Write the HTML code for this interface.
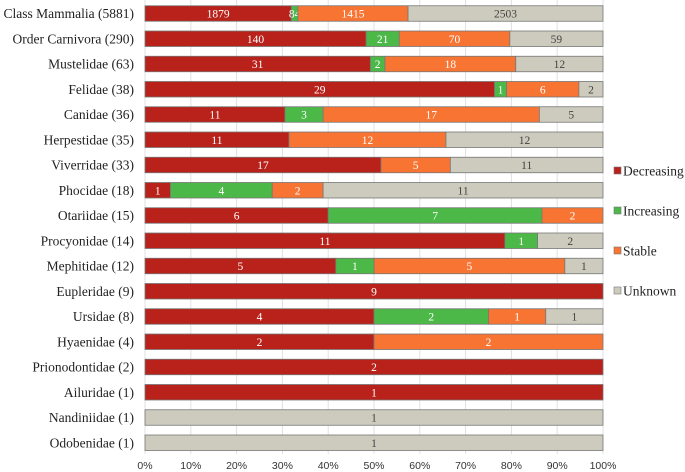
<!DOCTYPE html>
<html><head><meta charset="utf-8"><style>
body{margin:0;background:#fff;}
svg{display:block;}
</style></head><body>
<svg id="chart" width="685" height="472"></svg>
<script>
const categories=["Class Mammalia (5881)","Order Carnivora (290)","Mustelidae (63)","Felidae (38)","Canidae (36)","Herpestidae (35)","Viverridae (33)","Phocidae (18)","Otariidae (15)","Procyonidae (14)","Mephitidae (12)","Eupleridae (9)","Ursidae (8)","Hyaenidae (4)","Prionodontidae (2)","Ailuridae (1)","Nandiniidae (1)","Odobenidae (1)"];
const decreasing=[1879,140,31,29,11,11,17,1,6,11,5,9,4,2,2,1,0,0];
const increasing=[84,21,2,1,3,0,0,4,7,1,1,0,2,0,0,0,0,0];
const stable=[1415,70,18,6,17,12,5,2,2,0,5,0,1,2,0,0,0,0];
const unknown=[2503,59,12,2,5,12,11,11,0,2,1,0,1,0,0,0,1,1];
const seriesNames=["Decreasing","Increasing","Stable","Unknown"];
const tickLabels=["0%","10%","20%","30%","40%","50%","60%","70%","80%","90%","100%"];

const NS="http://www.w3.org/2000/svg";
const svg=document.getElementById('chart');
const SERIF="'Liberation Serif','Times New Roman',serif";
const SANS="'Liberation Sans',Arial,sans-serif";
const X0=145,X1=603,Y0=13.5,STEP=25.25,BH=15.5;
const colors=["#b8221a","#4cb848","#f87432","#cccbbd"];
const textCol=["#fff","#fff","#fff","#444"];
const series=[decreasing,increasing,stable,unknown];
function x(p){return X0+(X1-X0)*p;}
function yc(i){return Y0+STEP*i;}
function el(t,a){const e=document.createElementNS(NS,t);for(const k in a)e.setAttribute(k,a[k]);svg.appendChild(e);return e;}
tickLabels.forEach((t,k)=>{
  const g=el('line',{x1:x(k/10),x2:x(k/10),y1:0,y2:454,stroke:'#e0e0e0','stroke-width':1});
  
  
  const tx=el('text',{x:x(k/10),y:469,'text-anchor':'middle','font-family':SANS,'font-size':10.5,fill:'#333'});
  tx.textContent=t;
  
  
});
categories.forEach((c,i)=>{
  const lab=el('text',{x:134,y:yc(i)+4.5,'text-anchor':'end','font-family':SERIF,'font-size':13.5,fill:'#222'});
  lab.textContent=c;
  
  
  const tot=series.reduce((s,a)=>s+a[i],0);
  let acc=0;
  series.forEach((arr,s)=>{
    const v=arr[i]; if(!v)return;
    const xa=x(acc/tot),xb=x((acc+v)/tot);
    const r=el('rect',{x:xa,y:yc(i)-BH/2,width:xb-xa,height:BH,fill:colors[s],stroke:'#777','stroke-width':0.8});
    
    
    const t=el('text',{x:(xa+xb)/2,y:yc(i)+4,'text-anchor':'middle','font-family':SERIF,'font-size':11.5,fill:textCol[s]});
    t.textContent=v;
    
    
    acc+=v;
  });
});
seriesNames.forEach((n,s)=>{
  const ly=171+40*s;
  const r=el('rect',{x:614,y:ly-4,width:7,height:7,fill:colors[s],stroke:'#777','stroke-width':0.6});
  
  
  const t=el('text',{x:623,y:ly+4.5,'font-family':SERIF,'font-size':13.5,fill:'#222'});
  t.textContent=n;
  
  
});
</script>
</body></html>
